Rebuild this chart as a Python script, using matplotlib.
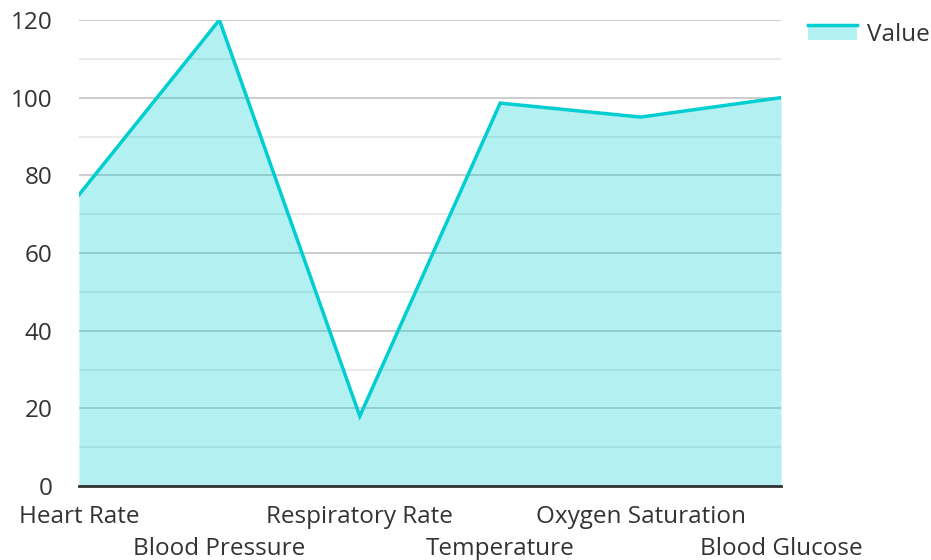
import matplotlib
matplotlib.use("Agg")
import matplotlib.pyplot as plt
from matplotlib.patches import Rectangle
from matplotlib.lines import Line2D
from matplotlib.legend_handler import HandlerBase

categories = ["Heart Rate", "Blood Pressure", "Respiratory Rate", "Temperature",
              "Oxygen Saturation", "Blood Glucose"]
values = [75, 120, 18, 98.6, 95, 100]
series_name = "Value"

plt.rcParams['font.family'] = ['Open Sans', 'DejaVu Sans']

LINE = "#00CED1"
FS = 17.5

fig = plt.figure(figsize=(9.31, 5.6), dpi=100)
ax = fig.add_axes([79/931, 74/560, 702/931, 466/560])

x = list(range(len(categories)))
ax.fill_between(x, values, 0, color=LINE, alpha=0.3, linewidth=0, zorder=3)
ax.plot(x, values, color=LINE, linewidth=2.5, zorder=4, solid_joinstyle='miter')

ax.set_xlim(0, len(categories) - 1)
ax.set_ylim(0, 120)
ax.set_yticks(range(0, 121, 20))
ax.set_yticks(range(10, 121, 20), minor=True)
ax.grid(True, which='major', axis='y', color='#c4c4c4', linewidth=1.2, zorder=1)
ax.grid(True, which='minor', axis='y', color='#e6e6e6', linewidth=1.2, zorder=1)
ax.set_axisbelow(True)

# alternate category labels on two rows (even on first row, odd on second)
ax.set_xticks(x[0::2])
ax.set_xticklabels(categories[0::2])
ax.set_xticks(x[1::2], minor=True)
ax.set_xticklabels(categories[1::2], minor=True)
ax.tick_params(axis='both', which='both', length=0, labelsize=FS, colors='#333333')
ax.tick_params(axis='x', which='major', pad=14)
ax.tick_params(axis='x', which='minor', pad=36.5)
ax.tick_params(axis='y', which='major', pad=19)
ax.tick_params(axis='y', which='minor', labelleft=False)

for s in ['left', 'right', 'top']:
    ax.spines[s].set_visible(False)
ax.spines['bottom'].set_color('#333333')
ax.spines['bottom'].set_linewidth(2)
ax.spines['bottom'].set_zorder(5)


class AreaHandler(HandlerBase):
    def create_artists(self, legend, orig_handle, xdescent, ydescent,
                       width, height, fontsize, trans):
        r = Rectangle((-xdescent, -ydescent), width, height,
                      facecolor=LINE, alpha=0.3, linewidth=0, transform=trans)
        l = Line2D([-xdescent, -xdescent + width],
                   [-ydescent + height, -ydescent + height],
                   color=LINE, linewidth=2.5, transform=trans)
        return [r, l]


handle = Rectangle((0, 0), 1, 1)
fig.legend([handle], [series_name], handler_map={Rectangle: AreaHandler()},
           loc='upper left', bbox_to_anchor=(791/931, 1 - 6/560), frameon=False,
           fontsize=FS, handlelength=2.0, handleheight=0.6, handletextpad=0.42,
           labelcolor='#333333', borderaxespad=0.3)

fig.savefig("out.png", dpi=100)
